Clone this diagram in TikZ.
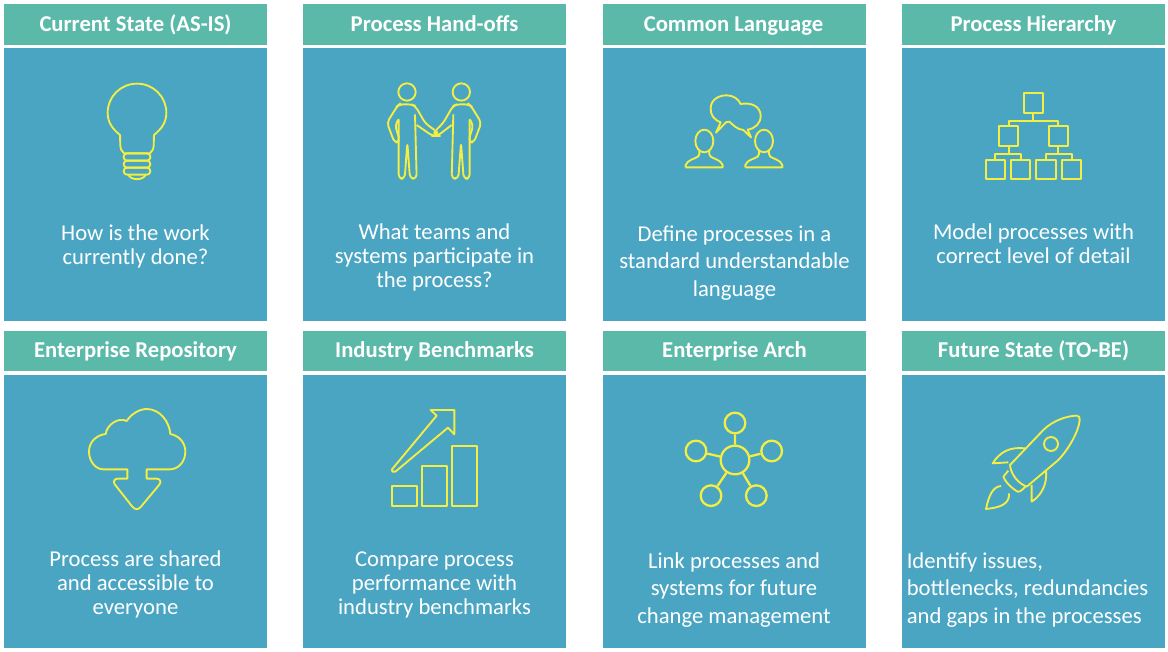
\documentclass[tikz,border=0pt]{standalone}
\usepackage{fontspec}
\setmainfont{Carlito}
\definecolor{headteal}{HTML}{5BB9AA}
\definecolor{panelblue}{HTML}{4AA5C2}
\definecolor{iconyellow}{HTML}{F4EE42}
\begin{document}
\begin{tikzpicture}[
    x=0.75pt, y=-0.75pt,
    header/.style={fill=headteal, text=white, minimum width=197.25pt, minimum height=30.5pt, inner sep=0pt, text height=13.5pt, text depth=3.5pt, font=\fontsize{17}{18}\selectfont\bfseries},
    panel/.style={fill=panelblue, minimum width=197.25pt, minimum height=204.75pt, inner sep=0pt},
    caption/.style={text=white, align=center, inner sep=0pt, font=\fontsize{17}{18}\selectfont},
    loose/.style={caption, font=\fontsize{17}{20.6}\selectfont},
    icon/.style={draw=iconyellow, line width=1.4pt, line join=round},
    orgbox/.style={icon, line width=1.7pt, minimum size=14.5pt, inner sep=0pt},
    hub/.style={icon, line width=1.7pt, circle, minimum size=21.5pt, inner sep=0pt},
    satellite/.style={icon, line width=1.7pt, circle, minimum size=15.5pt, inner sep=0pt}
]
\useasboundingbox (0,0) rectangle (1168,652);

% top row
\node[header] (hd1) at (135.5,24.5) {Current State (AS-IS)};
\node[header] (hd2) at (434.5,24.5) {Process Hand-offs};
\node[header] (hd3) at (734.5,24.5) {\hspace{-1.5pt}Common Language};
\node[header] (hd4) at (1033.5,24.5) {Process Hierarchy};
\node[panel] (pn1) at (135.5,184.5) {};
\node[panel] (pn2) at (434.5,184.5) {};
\node[panel] (pn3) at (734.5,184.5) {};
\node[panel] (pn4) at (1033.5,184.5) {};
\node[caption] (tx1) at (135.5,246) {How is the work\\currently done?};
\node[caption] (tx2) at (434.5,257.5) {What teams and\\systems participate in\\the process?};
\node[loose] (tx3) at (734.5,263) {Define processes in a\\standard understandable\\language};
\node[caption] (tx4) at (1033.5,243.5) {Model processes with\\correct level of detail};

% bottom row
\node[header] (hd5) at (135.5,351) {Enterprise Repository};
\node[header] (hd6) at (434.5,351) {Industry Benchmarks};
\node[header] (hd7) at (734.5,351) {Enterprise Arch};
\node[header] (hd8) at (1033.5,351) {Future State (TO-BE)};
\node[panel] (pn5) at (135.5,511.5) {};
\node[panel] (pn6) at (434.5,511.5) {};
\node[panel] (pn7) at (734.5,511.5) {};
\node[panel] (pn8) at (1033.5,511.5) {};
\node[caption] (tx5) at (135.5,584.5) {Process are shared\\and accessible to\\everyone};
\node[caption] (tx6) at (434.5,584.5) {Compare process\\performance with\\industry benchmarks};
\node[loose] (tx7) at (734,590) {Link processes and\\systems for future\\change management};
\node[loose, align=left, anchor=west] (tx8) at (906.5,590) {Identify issues,\\bottlenecks, redundancies\\and gaps in the processes};

% bulb
\begin{scope}[scale=1/3]
\draw[icon] (360,405) .. controls (335,385) and (323,365) .. (323,338) .. controls (323,290) and (362,251) .. (411,251) .. controls (460,251) and (499,290) .. (499,338) .. controls (499,365) and (487,385) .. (462,405) .. controls (460,420) and (466,450) .. (450,460) -- (372,460) .. controls (356,450) and (362,420) .. (360,405) -- cycle;
\draw[icon, rounded corners=2.5pt] (371,460) rectangle (451,482);
\draw[icon, rounded corners=2.5pt] (371,482) rectangle (451,503);
\draw[icon, rounded corners=2.5pt] (371,503) rectangle (451,524);
\draw[icon] (385,524) .. controls (392,542) and (430,542) .. (437,524);
\end{scope}

% two people shaking hands
\begin{scope}[shift={(360,70)}, scale=1/3]
\draw[icon] (141,66) circle (26);
\draw[icon] (304,66) circle (26);
\draw[icon, rounded corners=3pt] (116,148) -- (105,165) -- (120,214) -- (104,219) -- (81,158) -- (112,108) -- (118,103) -- (155,103) -- (166,108) -- (196,160) -- (232,186) -- (228,198) -- (218,198) -- (170,165);
\draw[icon, rounded corners=3pt] (116,148) -- (116,326) -- (134,326) -- (142,218) -- (150,326) -- (170,326) -- (165,133);
\draw[icon, rounded corners=3pt] (329,148) -- (340,165) -- (325,214) -- (341,219) -- (364,158) -- (333,108) -- (327,103) -- (290,103) -- (279,108) -- (249,160) -- (222,186) -- (228,198) -- (232,198) -- (275,165);
\draw[icon, rounded corners=3pt] (329,148) -- (329,326) -- (311,326) -- (303,218) -- (295,326) -- (275,326) -- (280,133);
\end{scope}

% two heads talking
\begin{scope}[shift={(670,80)}, scale=1/3]
\draw[icon] (103,183) ellipse (27 and 34);
\draw[icon] (282,183) ellipse (27 and 34);
\draw[icon] (47,262) -- (47,255) .. controls (52,240) and (75,236) .. (84,230) .. controls (90,226) and (88,218) .. (88,212);
\draw[icon] (47,262) -- (158,262) -- (158,255) .. controls (153,240) and (130,236) .. (122,230) .. controls (116,226) and (118,218) .. (118,212);
\draw[icon] (226,262) -- (226,255) .. controls (231,240) and (254,236) .. (263,230) .. controls (269,226) and (267,218) .. (267,212);
\draw[icon] (226,262) -- (337,262) -- (337,255) .. controls (332,240) and (309,236) .. (301,230) .. controls (295,226) and (297,218) .. (297,212);
\draw[icon] (138,158) -- (152,127) .. controls (130,118) and (122,105) .. (122,85) .. controls (122,60) and (145,46) .. (170,46) .. controls (190,46) and (205,57) .. (212,72) .. controls (245,66) and (272,80) .. (272,108) .. controls (272,130) and (255,146) .. (233,149) -- (243,172) -- (220,150) .. controls (200,148) and (190,135) .. (178,125) .. controls (170,124) and (165,128) .. (163,132) -- cycle;
\end{scope}

% hierarchy
\begin{scope}[shift={(970,85)}, scale=1/3]
\node[orgbox] (top) at (190,54) {};
\node[orgbox] (midl) at (116,153) {};
\node[orgbox] (midr) at (265,153) {};
\node[orgbox] (lowa) at (76,254) {};
\node[orgbox] (lowb) at (152,254) {};
\node[orgbox] (lowc) at (228,254) {};
\node[orgbox] (lowd) at (305,254) {};
\draw[icon, line width=1.7pt] (top.south) -- ++(0,21) -| (midl.north);
\draw[icon, line width=1.7pt] (top.south) -- ++(0,21) -| (midr.north);
\draw[icon, line width=1.7pt] (midl.south) -- ++(0,21) -| (lowa.north);
\draw[icon, line width=1.7pt] (midl.south) -- ++(0,21) -| (lowb.north);
\draw[icon, line width=1.7pt] (midr.south) -- ++(0,21) -| (lowc.north);
\draw[icon, line width=1.7pt] (midr.south) -- ++(0,21) -| (lowd.north);
\end{scope}

% cloud with arrow
\begin{scope}[shift={(75,400)}, scale=1/3]
\draw[icon] (157,208) -- (85,208) .. controls (60,208) and (42,182) .. (42,155) .. controls (42,125) and (65,105) .. (92,102) .. controls (95,75) and (130,50) .. (155,63) .. controls (170,40) and (195,27) .. (215,27) .. controls (255,27) and (283,65) .. (286,102) .. controls (315,108) and (331,130) .. (331,155) .. controls (331,185) and (310,208) .. (285,208) -- (215,208) -- (215,236) -- (245,236) .. controls (255,236) and (260,245) .. (253,254) -- (198,320) .. controls (190,330) and (180,330) .. (172,320) -- (120,254) .. controls (113,245) and (118,236) .. (128,236) -- (157,236) -- cycle;
\end{scope}

% bars with rising arrow
\begin{scope}[shift={(380,400)}, scale=1/3]
\draw[icon] (37,258) rectangle (111,318);
\draw[icon] (126,198) rectangle (201,318);
\draw[icon] (217,139) rectangle (292,318);
\draw[icon] (36,208) -- (170,47) -- (152,30) -- (223,30) -- (223,103) -- (204,83) -- (46,215) .. controls (40,219) and (32,213) .. (36,208) -- cycle;
\end{scope}

% network
\begin{scope}[shift={(675,405)}, scale=1/3]
\node[hub] (core) at (180,165) {};
\node[satellite] (sa) at (180,54) {};
\node[satellite] (sb) at (63,138) {};
\node[satellite] (sc) at (290,138) {};
\node[satellite] (sd) at (108,272) {};
\node[satellite] (se) at (244,272) {};
\draw[icon, line width=1.7pt] (core) -- (sa);
\draw[icon, line width=1.7pt] (core) -- (sb);
\draw[icon, line width=1.7pt] (core) -- (sc);
\draw[icon, line width=1.7pt] (core) -- (sd);
\draw[icon, line width=1.7pt] (core) -- (se);
\end{scope}

% rocket
\begin{scope}[shift={(975,405)}, scale=1/3]
\draw[icon] (105,180) -- (205,75) .. controls (235,45) and (280,32) .. (305,32) .. controls (312,32) and (315,37) .. (314,45) .. controls (312,75) and (285,128) .. (250,165) -- (155,245) .. controls (130,235) and (108,210) .. (105,180) -- cycle;
\draw[icon] (100,197) -- (85,215) .. controls (90,230) and (110,250) .. (128,260) .. controls (135,262) and (145,252) .. (152,243);
\draw[icon] (228,117) circle (21);
\draw[icon] (150,130) .. controls (105,125) and (75,140) .. (53,175) -- (100,172);
\draw[icon] (213,197) .. controls (218,240) and (195,275) .. (170,290) -- (170,240);
\draw[icon] (78,243) .. controls (50,245) and (40,280) .. (33,312) .. controls (70,308) and (105,300) .. (102,265);
\end{scope}
\end{tikzpicture}
\end{document}
